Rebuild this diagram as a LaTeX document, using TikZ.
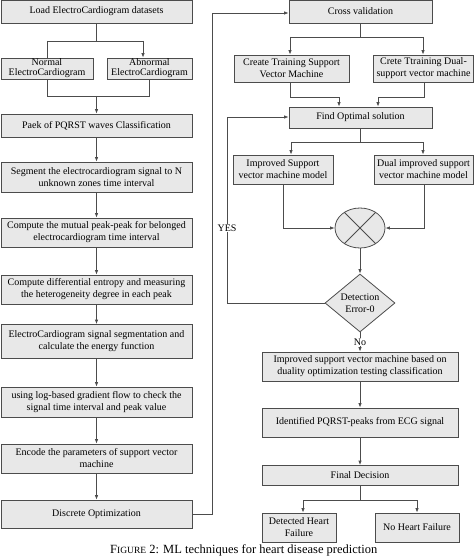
\documentclass[tikz,border=0pt]{standalone}
\usepackage{fontspec}
\setmainfont{Liberation Serif}
\usetikzlibrary{arrows.meta,shapes.geometric}
\begin{document}
\begin{tikzpicture}[x=1pt,y=-1pt,
  box/.style={draw=black!70, fill=black!9, line width=0.8pt, inner sep=0pt, align=center,
    font=\fontsize{10}{12}\selectfont},
  conn/.style={draw=black!70, line width=0.8pt},
  arr/.style={conn, -{Latex[length=4.5pt,width=3.5pt]}},
  lbl/.style={fill=white, inner sep=1pt, font=\fontsize{10}{12}\selectfont}]
\fill[white] (0,0) rectangle (474,559);
\useasboundingbox (0,0) rectangle (474,559);
% left column
\node[box, minimum width=191pt, minimum height=23pt] (load) at (96.5,11.5) {Load ElectroCardiogram datasets};
\node[box, minimum width=92pt, minimum height=21pt] (normal) at (47,68.5) {Normal\\[-2pt]ElectroCardiogram};
\node[box, minimum width=85pt, minimum height=21pt] (abnormal) at (149.5,68.5) {Abnormal\\[-2pt]ElectroCardiogram};
\node[box, minimum width=191pt, minimum height=23pt] (pack) at (96.5,125.5) {Paek of PQRST waves Classification};
\node[box, minimum width=191pt, minimum height=30pt] (segment) at (96.5,177) {Segment the electrocardiogram signal to N\\unknown zones time interval};
\node[box, minimum width=191pt, minimum height=29pt] (mutual) at (96.5,232.5) {Compute the mutual peak-peak for belonged\\electrocardiogram time interval};
\node[box, minimum width=191pt, minimum height=29pt] (entropy) at (96.5,289.5) {Compute differential entropy and measuring\\the heterogeneity degree in each peak};
\node[box, minimum width=191pt, minimum height=34pt] (ecgseg) at (96.5,341.5) {ElectroCardiogram signal segmentation and\\calculate the energy function};
\node[box, minimum width=191pt, minimum height=30pt] (logflow) at (96.5,402) {using log-based gradient flow to check the\\signal time interval and peak value};
\node[box, minimum width=191pt, minimum height=29pt] (encode) at (96.5,458.5) {Encode the parameters of support vector\\machine};
\node[box, minimum width=191pt, minimum height=28pt] (discrete) at (96.5,514) {Discrete Optimization};
% right column
\node[box, minimum width=143pt, minimum height=23pt] (cross) at (360.5,11.5) {Cross validation};
\node[box, minimum width=115pt, minimum height=27pt] (ctsvm) at (291.5,68.5) {Create Training Support\\Vector Machine};
\node[box, minimum width=100pt, minimum height=27pt] (cdsvm) at (423.5,68.5) {Crete Ttraining Dual-\\support vector machine};
\node[box, minimum width=143pt, minimum height=21pt] (find) at (360.5,117.5) {Find Optimal solution};
\node[box, minimum width=100pt, minimum height=29pt] (isvm) at (283,169.5) {Improved Support\\vector machine model};
\node[box, minimum width=99pt, minimum height=29pt] (disvm) at (423.5,169.5) {Dual improved support\\vector machine model};
\node[draw=black!70, fill=black!9, line width=0.8pt, ellipse, inner sep=0pt, minimum width=50pt, minimum height=40pt] (circ) at (360,228) {};
\draw[conn] (circ.45) -- (circ.225) (circ.135) -- (circ.315);
\node[draw=black!70, fill=black!9, line width=0.8pt, diamond, inner sep=0pt, minimum width=70pt, minimum height=58pt] (detect) at (360,303) {};
\node[align=center, inner sep=0pt, font=\fontsize{10}{12}\selectfont] (detecttxt) at (detect.center) {Detection\\Error-0};
\node[box, minimum width=196pt, minimum height=29pt] (dualopt) at (360,366.5) {Improved support vector machine based on\\duality optimization testing classification};
\node[box, minimum width=196pt, minimum height=29pt] (ident) at (360,422.5) {Identified PQRST-peaks from ECG signal};
\node[box, minimum width=196pt, minimum height=20pt] (final) at (360,475.5) {Final Decision};
\node[box, minimum width=74pt, minimum height=29pt] (detected) at (299,527.5) {Detected Heart\\Failure};
\node[box, minimum width=84pt, minimum height=29pt] (noheart) at (417,527.5) {No Heart Failure};
% caption
\node[inner sep=0pt, anchor=west, font=\fontsize{12.5}{14}\selectfont] (caption) at (110,550.5) {F{\fontsize{9.5}{11}\selectfont IGURE} 2: ML techniques for heart disease prediction};
% left connectors
\draw[conn] (load.south) -- (96.5,41);
\draw[conn] (47,41) -- (143,41);
\draw[conn] (47,41) -- (normal.north -| 47,0);
\draw[arr] (143,41) -- (abnormal.north -| 143,0);
\draw[conn] (normal.south) -- (47,96) -- (149.5,96) -- (abnormal.south);
\draw[arr] (96.5,96) -- (pack.north);
\draw[arr] (pack) -- (segment);
\draw[arr] (segment) -- (mutual);
\draw[arr] (mutual) -- (entropy);
\draw[arr] (entropy) -- (ecgseg);
\draw[arr] (ecgseg) -- (logflow);
\draw[arr] (logflow) -- (encode);
\draw[arr] (encode) -- (discrete);
\draw[arr] (discrete.east) -- (212,514) -- (212,13) -- (cross.west |- 0,13);
% right connectors
\draw[conn] (cross.south) -- (360.5,37);
\draw[conn] (290,37) -- (423,37);
\draw[arr] (290,37) -- (ctsvm.north -| 290,0);
\draw[arr] (423,37) -- (cdsvm.north -| 423,0);
\draw[arr] (ctsvm.south -| 290,0) -- (290,97) -- (339,97) -- (find.north -| 339,0);
\draw[arr] (cdsvm.south -| 424,0) -- (424,97) -- (378,97) -- (find.north -| 378,0);
\draw[conn] (find.south) -- (360.5,142);
\draw[conn] (291,142) -- (423,142);
\draw[arr] (291,142) -- (isvm.north -| 291,0);
\draw[arr] (423,142) -- (disvm.north -| 423,0);
\draw[arr] (isvm.south) -- (283,228) -- (circ.west);
\draw[arr] (disvm.south -| 424,0) -- (424,228) -- (circ.east);
\draw[arr] (circ.south) -- (detect.north);
\draw[arr] (detect.west) -- (227,303) -- (227,117) -- (find.west |- 0,117);
\node[lbl] (yes) at (227,228) {YES};
\draw[arr] (detect.south) -- (dualopt.north);
\node[lbl] (no) at (360,342) {No};
\draw[arr] (dualopt) -- (ident);
\draw[arr] (ident) -- (final);
\draw[conn] (final.south) -- (360,500);
\draw[conn] (303,500) -- (417,500);
\draw[arr] (303,500) -- (detected.north -| 303,0);
\draw[arr] (417,500) -- (noheart.north);
\end{tikzpicture}
\end{document}
